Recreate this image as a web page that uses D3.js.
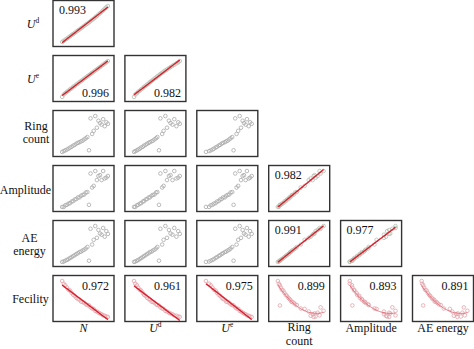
<!DOCTYPE html>
<html><head><meta charset="utf-8">
<script src="https://cdn.jsdelivr.net/npm/d3@7"></script>
<style>body{margin:0;background:#fff}svg{display:block}text{font-family:"Liberation Serif","Times New Roman",serif}</style>
</head><body>
<script>
// ---- data (one value per loading cycle) ----
const N = [1,2,3,4,5,6,7,8,9,10,11,12,13,14,15,16,17,18,19,20,21,22,23,24,25,26,27,28,29,30];
const Ud = [0.015,0.022,0.031,0.038,0.047,0.055,0.064,0.071,0.080,0.088,0.097,0.104,0.113,0.121,0.130,0.139,0.146,0.155,0.163,0.173,0.181,0.191,0.200,0.211,0.220,0.231,0.241,0.253,0.263,0.272];
const Ue = [0.080,0.101,0.112,0.124,0.133,0.145,0.154,0.166,0.175,0.186,0.195,0.207,0.216,0.226,0.237,0.246,0.257,0.266,0.277,0.286,0.297,0.307,0.316,0.327,0.336,0.347,0.356,0.368,0.377,0.388];
const ringCount = [3900,4900,5800,6800,7800,9200,10200,11600,12600,14000,15000,15900,16900,17800,19300,20700,22200,5900,45200,26000,29800,48100,33700,42300,39400,37500,44200,35600,40400,38500];
const amplitude = [47.0,47.0,48.6,49.0,50.2,50.6,52.2,52.6,54.2,54.6,56.2,56.2,57.8,58.6,59.0,61.0,61.4,49.0,79.4,65.8,67.4,81.8,73.0,77.0,77.8,73.0,81.8,74.6,75.4,77.0];
const aeEnergy = [180,200,240,280,320,380,420,480,520,580,620,680,700,760,800,860,940,240,1860,1060,1300,2000,1400,1800,1620,1560,1900,1460,1740,1600];
const fecility = [0.882,0.840,0.816,0.780,0.744,0.732,0.696,0.666,0.648,0.618,0.600,0.588,0.558,0.552,0.540,0.516,0.504,0.498,0.468,0.450,0.444,0.414,0.402,0.384,0.372,0.360,0.342,0.336,0.324,0.318];

// variables in matrix order
const variables = [N, Ud, Ue, ringCount, amplitude, aeEnergy, fecility];
// correlation coefficients shown in the panels: [rowVar, colVar]
const corrPairs = [[1,0],[2,0],[2,1],[4,3],[5,3],[5,4],[6,0],[6,1],[6,2],[6,3],[6,4],[6,5]];
const corrValues = ["0.993","0.996","0.982","0.982","0.991","0.977","0.972","0.961","0.975","0.899","0.893","0.891"];
// pairs fitted with a curve (quadratic) instead of a straight line
const curvedPairs = [[6,3],[6,4],[6,5]];

// ---- layout ----
const W = 474, H = 349;
const colX0 = 53, colStep = 71.9, pw = 61;
const rowY0 = 0.5, rowStep = 55, ph = 46;

const svg = d3.select("body").append("svg").attr("width", W).attr("height", H);

function key(a,b){return a+"-"+b;}
const corrMap = new Map(corrPairs.map((p,i)=>[key(p[0],p[1]), corrValues[i]]));
const curvedSet = new Set(curvedPairs.map(p=>key(p[0],p[1])));

function linFit(xs, ys){
  const mx=d3.mean(xs), my=d3.mean(ys);
  let sxy=0,sxx=0;
  xs.forEach((x,i)=>{sxy+=(x-mx)*(ys[i]-my); sxx+=(x-mx)*(x-mx);});
  const b=sxy/sxx; return x=>my+b*(x-mx);
}
function quadFit(xs, ys){
  const mx=d3.mean(xs), sx=d3.deviation(xs);
  const t=xs.map(x=>(x-mx)/sx);
  const S=k=>d3.sum(t,v=>Math.pow(v,k));
  const T=k=>d3.sum(t,(v,i)=>Math.pow(v,k)*ys[i]);
  const A=[[S(0),S(1),S(2),T(0)],[S(1),S(2),S(3),T(1)],[S(2),S(3),S(4),T(2)]];
  for(let i=0;i<3;i++){
    for(let j=i+1;j<3;j++){const f=A[j][i]/A[i][i]; for(let k=i;k<4;k++)A[j][k]-=f*A[i][k];}
  }
  const c=[0,0,0];
  for(let i=2;i>=0;i--){let s=A[i][3]; for(let k=i+1;k<3;k++)s-=A[i][k]*c[k]; c[i]=s/A[i][i];}
  return x=>{const v=(x-mx)/sx; return c[0]+c[1]*v+c[2]*v*v;};
}

const defs = svg.append("defs");

for(let r=0;r<6;r++){
  const yi = r+1;
  for(let c=0;c<=r;c++){
    const xi = c;
    const x0 = colX0 + c*colStep, y0 = rowY0 + r*rowStep;
    const xs = variables[xi], ys = variables[yi];
    const sx = d3.scaleLinear().domain(d3.extent(xs)).range([x0+pw*0.15, x0+pw*0.9]);
    const sy = d3.scaleLinear().domain(d3.extent(ys)).range([y0+ph*0.9, y0+ph*0.12]);
    const k = key(yi,xi);
    const corr = corrMap.get(k);
    const curved = curvedSet.has(k);
    const clipId = "clip"+r+"_"+c;
    defs.append("clipPath").attr("id",clipId).append("rect")
      .attr("x",x0).attr("y",y0).attr("width",pw).attr("height",ph);
    const g = svg.append("g");
    const inner = g.append("g").attr("clip-path","url(#"+clipId+")");
    const ptColor = yi===6 ? "#e3a3aa" : (corr ? "#b3bcae" : "#a9a9a9");
    inner.selectAll("circle").data(xs.map((x,i)=>[x,ys[i]])).enter().append("circle")
      .attr("cx",d=>sx(d[0])).attr("cy",d=>sy(d[1])).attr("r",1.8)
      .attr("fill","none").attr("stroke",ptColor).attr("stroke-width",0.8);
    if(corr){
      const f = curved ? quadFit(xs,ys) : linFit(xs,ys);
      const [a,b] = d3.extent(xs);
      const samples = d3.range(0,41).map(i=>a+(b-a)*i/40);
      inner.append("path").datum(samples)
        .attr("d", d3.line().x(x=>sx(x)).y(x=>sy(f(x))))
        .attr("fill","none")
        .attr("stroke", curved ? "#e06a78" : "#d8202e")
        .attr("stroke-width", curved ? 0.9 : 1.4);
      let tx, ty, anchor;
      if(r===1){ tx=x0+pw-5; ty=y0+ph-5; anchor="end"; }
      else if(r===5){ tx=x0+pw-5; ty=y0+14; anchor="end"; }
      else { tx=x0+6; ty=y0+13.5; anchor="start"; }
      g.append("text").attr("x",tx).attr("y",ty).attr("text-anchor",anchor)
        .attr("font-size",12).attr("fill","#111").text(corr);
    }
    g.append("rect").attr("x",x0).attr("y",y0).attr("width",pw).attr("height",ph)
      .attr("fill","none").attr("stroke","#333").attr("stroke-width",1.4);
  }
}

// ---- row labels ----
function uLabel(x, y, sup){
  const t = svg.append("text").attr("x",x).attr("y",y).attr("text-anchor","middle").attr("font-size",12).attr("fill","#111");
  t.append("tspan").attr("font-style","italic").text("U");
  t.append("tspan").attr("dy",-5).attr("font-size",7.5).text(sup);
}
function rowCenter(r){ return rowY0 + r*rowStep + ph/2; }
uLabel(33, rowCenter(0)+4, "d");
uLabel(33, rowCenter(1)+4, "e");
function textLines(x, y, lines, lh){
  lines.forEach((l,i)=>svg.append("text").attr("x",x).attr("y",y+i*lh)
    .attr("text-anchor","middle").attr("font-size",12).attr("fill","#111").text(l));
}
textLines(36, rowCenter(2)-4, ["Ring","count"], 13.8);
textLines(25.5, rowCenter(3)+5, ["Amplitude"], 0);
textLines(29.5, rowCenter(4)-2, ["AE","energy"], 13.8);
textLines(30.5, rowCenter(5)+4, ["Fecility"], 0);

// ---- column labels ----
function colCenter(c){ return colX0 + c*colStep + pw/2; }
const baseY = 332;
svg.append("text").attr("x",colCenter(0)).attr("y",baseY).attr("text-anchor","middle")
  .attr("font-size",12).attr("font-style","italic").attr("fill","#111").text("N");
uLabel(colCenter(1), baseY, "d");
uLabel(colCenter(2), baseY, "e");
textLines(colCenter(3), baseY-1, ["Ring","count"], 13.8);
textLines(colCenter(4), baseY, ["Amplitude"], 0);
textLines(colCenter(5), baseY, ["AE energy"], 0);
</script>
</body></html>
